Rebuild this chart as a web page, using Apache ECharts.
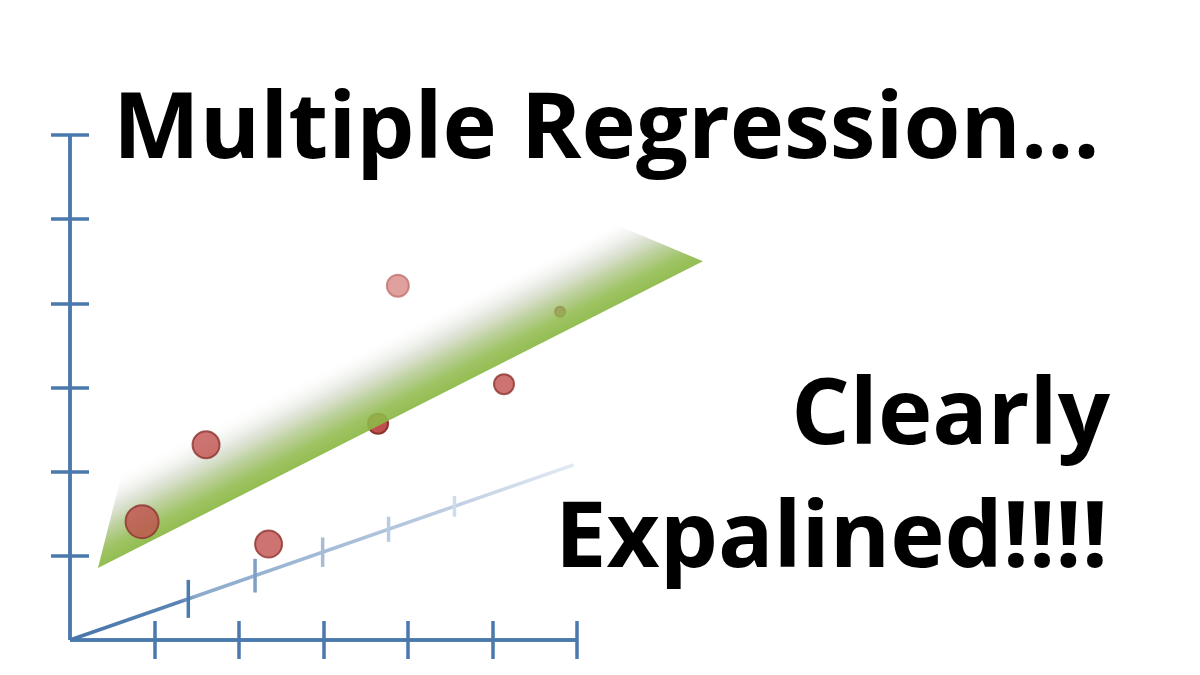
<!DOCTYPE html>
<html>
<head>
<meta charset="utf-8">
<script src="https://cdn.jsdelivr.net/npm/echarts@6/dist/echarts.min.js"></script>
<style>
html,body{margin:0;padding:0;background:#fff;}
#chart{width:1200px;height:675px;}
</style>
</head>
<body>
<div id="chart"></div>
<script>
// ---- data ----
const xTicks = [1, 2, 3, 4, 5, 6];
const yTicks = [1, 2, 3, 4, 5, 6];
const depthAxisEnd = [5.96, 2.08];
const depthTickX = [1.40, 2.19, 2.99, 3.77, 4.55];
const planeCorners = [[0.331, 0.855], [0.675, 2.222], [6.21, 5.04], [7.49, 4.50]];
// [x, y, size]
const frontPoints = [[0.853, 1.405, 35], [1.61, 2.32, 29], [2.35, 1.14, 29], [5.136, 3.04, 22]];
const farPoints = [[3.88, 4.21, 24]];
const behindPoints = [[3.645, 2.57, 22], [5.80, 3.90, 12]];
const titleText = 'Multiple Regression…';
const subLine1 = 'Clearly';
const subLine2 = 'Expalined!!!!';

const AXIS_BLUE = '#4a79ae';
const FONT = 'bold 92px "Open Sans", Lato, sans-serif';

const chart = echarts.init(document.getElementById('chart'), null, {renderer: 'canvas'});

function axisCommon(inside, ticks) {
  return {
    type: 'value', min: 0, max: 6, interval: 1,
    axisLine: {show: true, onZero: false, lineStyle: {color: AXIS_BLUE, width: 3.5, cap: 'butt'}},
    axisTick: {show: true, inside: inside, length: 19, customValues: ticks,
      lineStyle: {color: AXIS_BLUE, width: 3.5}},
    axisLabel: {show: false},
    splitLine: {show: false}
  };
}

const option = {
  backgroundColor: '#ffffff',
  animation: false,
  grid: {left: 70, top: 135, width: 507, height: 505, containLabel: false},
  xAxis: [
    Object.assign(axisCommon(false, xTicks), {position: 'bottom'}),
    Object.assign(axisCommon(true, xTicks), {position: 'bottom'})
  ],
  yAxis: [
    Object.assign(axisCommon(false, yTicks), {position: 'left'}),
    Object.assign(axisCommon(true, yTicks), {position: 'left'})
  ],
  graphic: [
    {type: 'text', x: 113, y: 132, z: 100,
      style: {text: titleText, font: FONT, fill: '#000', align: 'left', verticalAlign: 'middle'}},
    {type: 'text', x: 1110, y: 418, z: 100,
      style: {text: subLine1, font: FONT, fill: '#000', align: 'right', verticalAlign: 'middle'}},
    {type: 'text', x: 1108, y: 541, z: 100,
      style: {text: subLine2, font: FONT, fill: '#000', align: 'right', verticalAlign: 'middle'}}
  ],
  series: [
    // depth (third) axis
    {
      type: 'custom', name: 'depthAxis', coordinateSystem: 'cartesian2d', xAxisIndex: 0, yAxisIndex: 0,
      clip: false, z: 1, silent: true,
      data: [[0, 0, depthAxisEnd[0], depthAxisEnd[1]]],
      renderItem: function (params, api) {
        const p0 = api.coord([api.value(0), api.value(1)]);
        const p1 = api.coord([api.value(2), api.value(3)]);
        const slope = (depthAxisEnd[1]) / (depthAxisEnd[0]);
        const children = [{
          type: 'line',
          shape: {x1: p0[0], y1: p0[1], x2: p1[0], y2: p1[1]},
          style: {
            lineWidth: 3.5,
            stroke: {
              type: 'linear', global: true, x: p0[0], y: p0[1], x2: p1[0], y2: p1[1],
              colorStops: [
                {offset: 0, color: '#4776aa'},
                {offset: 0.22, color: '#5a84b5'},
                {offset: 0.25, color: '#8aa9cc'},
                {offset: 0.7, color: '#b7c9df'},
                {offset: 1, color: '#e2e9f2'}
              ]
            }
          }
        }];
        const tickColors = ['#4e7bae', '#7f9fc4', '#a6bcd7', '#b9cbe0', '#cfdbea'];
        depthTickX.forEach(function (tx, i) {
          const c = api.coord([tx, tx * slope]);
          const half = (38 - 4.3 * i) / 2;
          children.push({
            type: 'line',
            shape: {x1: c[0], y1: c[1] - half, x2: c[0], y2: c[1] + half},
            style: {lineWidth: 3.5, stroke: tickColors[i]}
          });
        });
        return {type: 'group', children: children};
      }
    },
    // points behind the plane
    {
      type: 'scatter', name: 'behind', z: 2, data: behindPoints,
      symbolSize: function (v) { return v[2] - 2; },
      itemStyle: {color: '#c0504d', borderColor: '#8c3330', borderWidth: 2, opacity: 1}
    },
    // regression plane
    {
      type: 'custom', name: 'plane', coordinateSystem: 'cartesian2d', clip: false, z: 3, silent: true,
      data: [[0]],
      renderItem: function (params, api) {
        const pts = planeCorners.map(function (c) { return api.coord(c); });
        const A = pts[0], B = pts[1], D = pts[3];
        const ex = D[0] - A[0], ey = D[1] - A[1];
        const len = Math.sqrt(ex * ex + ey * ey);
        let nx = ey / len, ny = -ex / len;
        if (nx * (B[0] - A[0]) + ny * (B[1] - A[1]) < 0) { nx = -nx; ny = -ny; }
        const width = nx * (B[0] - A[0]) + ny * (B[1] - A[1]);
        return {
          type: 'polygon',
          shape: {points: pts},
          style: {
            fill: {
              type: 'linear', global: true,
              x: A[0], y: A[1], x2: A[0] + nx * width, y2: A[1] + ny * width,
              colorStops: [
                {offset: 0, color: 'rgba(138,184,68,0.92)'},
                {offset: 0.15, color: 'rgba(145,187,78,0.88)'},
                {offset: 0.35, color: 'rgba(160,188,115,0.68)'},
                {offset: 0.55, color: 'rgba(195,203,182,0.48)'},
                {offset: 0.72, color: 'rgba(232,234,228,0.25)'},
                {offset: 0.86, color: 'rgba(255,255,255,0)'},
                {offset: 1, color: 'rgba(255,255,255,0)'}
              ]
            }
          }
        };
      }
    },
    // far (faded) point
    {
      type: 'scatter', name: 'far', z: 4, data: farPoints,
      symbolSize: function (v) { return v[2] - 2; },
      itemStyle: {color: '#d88886', borderColor: '#c07371', borderWidth: 2}
    },
    // front points
    {
      type: 'scatter', name: 'front', z: 5, data: frontPoints,
      symbolSize: function (v) { return v[2] - 2; },
      itemStyle: {color: '#c0504d', borderColor: '#8c3330', borderWidth: 2}
    }
  ]
};
chart.setOption(option);
</script>
</body>
</html>
